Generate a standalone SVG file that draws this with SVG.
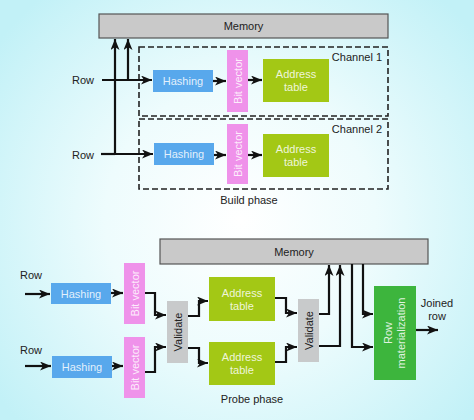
<svg xmlns="http://www.w3.org/2000/svg" width="474" height="420" viewBox="0 0 474 420">
<defs>
<radialGradient id="bg" cx="240" cy="220" r="300" gradientUnits="userSpaceOnUse">
<stop offset="0" stop-color="#ffffff"/>
<stop offset="0.45" stop-color="#eefcfd"/>
<stop offset="1" stop-color="#c2f1f7"/>
</radialGradient>
<marker id="ah" markerUnits="userSpaceOnUse" markerWidth="12" markerHeight="10" refX="11" refY="4.5" orient="auto">
<path d="M0,0 L11,4.5 L0,9 L3,4.5 z" fill="#111"/>
</marker>
<style>
.lbl{font-family:"Liberation Sans",Arial,sans-serif;font-size:11px;fill:#222}
.wt{font-family:"Liberation Sans",Arial,sans-serif;font-size:11px;fill:#ffffff;fill-opacity:0.85}
.mem{fill:#c9c9c9;stroke:#555;stroke-width:1.2}
.hash{fill:#58a8ec}
.bv{fill:#ef92ea}
.at{fill:#a3c815}
.val{fill:#c8cacb}
.rm{fill:#3db53d}
.dash{fill:none;stroke:#222;stroke-width:1.6;stroke-dasharray:6 3}
.c{fill:none;stroke:#111;stroke-width:2.2;marker-end:url(#ah)}
.cn{fill:none;stroke:#111;stroke-width:2.2}
</style>
</defs>
<rect x="0" y="0" width="474" height="420" fill="url(#bg)"/>

<!-- Build phase -->
<g id="memory1"><rect class="mem" x="99" y="14" width="289" height="24"/><text class="lbl" x="243.5" y="30" text-anchor="middle">Memory</text></g>
<g id="channel1"><rect class="dash" x="139" y="47" width="249" height="69"/><text class="lbl" x="382" y="61" text-anchor="end">Channel 1</text></g>
<g id="channel2"><rect class="dash" x="139" y="119" width="249" height="70"/><text class="lbl" x="382" y="133" text-anchor="end">Channel 2</text></g>
<g id="row1"><text class="lbl" x="83" y="84" text-anchor="middle">Row</text></g>
<g id="row2"><text class="lbl" x="83" y="159" text-anchor="middle">Row</text></g>
<g id="hash1"><rect class="hash" x="153" y="70" width="60" height="22"/><text class="wt" x="183" y="85" text-anchor="middle">Hashing</text></g>
<g id="hash2"><rect class="hash" x="154" y="143" width="60" height="22"/><text class="wt" x="184" y="158" text-anchor="middle">Hashing</text></g>
<g id="bv1"><rect class="bv" x="227" y="50" width="21" height="62"/><text class="wt" transform="translate(241.5,81) rotate(-90)" text-anchor="middle">Bit vector</text></g>
<g id="bv2"><rect class="bv" x="227" y="124" width="21" height="60"/><text class="wt" transform="translate(241.5,154) rotate(-90)" text-anchor="middle">Bit vector</text></g>
<g id="at1"><rect class="at" x="263" y="59" width="66" height="43"/><text class="wt" x="296" y="78" text-anchor="middle">Address</text><text class="wt" x="296" y="91" text-anchor="middle">table</text></g>
<g id="at2"><rect class="at" x="263" y="134" width="66" height="43"/><text class="wt" x="296" y="153" text-anchor="middle">Address</text><text class="wt" x="296" y="166" text-anchor="middle">table</text></g>
<g id="buildlabel"><text class="lbl" x="249" y="204" text-anchor="middle">Build phase</text></g>

<!-- Probe phase -->
<g id="memory2"><rect class="mem" x="160" y="239" width="268" height="25"/><text class="lbl" x="294" y="256" text-anchor="middle">Memory</text></g>
<g id="prow1"><text class="lbl" x="31" y="279" text-anchor="middle">Row</text></g>
<g id="prow2"><text class="lbl" x="31" y="354" text-anchor="middle">Row</text></g>
<g id="phash1"><rect class="hash" x="51" y="283" width="60" height="21"/><text class="wt" x="81" y="298" text-anchor="middle">Hashing</text></g>
<g id="phash2"><rect class="hash" x="52" y="356" width="60" height="22"/><text class="wt" x="82" y="371" text-anchor="middle">Hashing</text></g>
<g id="pbv1"><rect class="bv" x="124" y="263" width="21" height="61"/><text class="wt" transform="translate(138.5,293.5) rotate(-90)" text-anchor="middle">Bit vector</text></g>
<g id="pbv2"><rect class="bv" x="124" y="337" width="21" height="61"/><text class="wt" transform="translate(138.5,367.5) rotate(-90)" text-anchor="middle">Bit vector</text></g>
<g id="val1"><rect class="val" x="167" y="301" width="21" height="62"/><text class="lbl" transform="translate(181.5,332) rotate(-90)" text-anchor="middle">Validate</text></g>
<g id="pat1"><rect class="at" x="209" y="277" width="66" height="44"/><text class="wt" x="242" y="297" text-anchor="middle">Address</text><text class="wt" x="242" y="310" text-anchor="middle">table</text></g>
<g id="pat2"><rect class="at" x="209" y="342" width="66" height="43"/><text class="wt" x="242" y="361" text-anchor="middle">Address</text><text class="wt" x="242" y="374" text-anchor="middle">table</text></g>
<g id="val2"><rect class="val" x="298" y="299" width="21" height="63"/><text class="lbl" transform="translate(312.5,330.5) rotate(-90)" text-anchor="middle">Validate</text></g>
<g id="rowmat"><rect class="rm" x="374" y="286" width="42" height="94"/><text class="wt" transform="translate(392,333) rotate(-90)" text-anchor="middle">Row</text><text class="wt" transform="translate(405,333) rotate(-90)" text-anchor="middle">materialization</text></g>
<g id="joined"><text class="lbl" x="437" y="307" text-anchor="middle">Joined</text><text class="lbl" x="437" y="320" text-anchor="middle">row</text></g>
<g id="probelabel"><text class="lbl" x="252" y="403" text-anchor="middle">Probe phase</text></g>

<g id="connectors">
<!-- build -->
<path class="c" d="M102,80 H152"/>
<path class="c" d="M128,80 V39"/>
<path class="cn" d="M101,154 H115"/>
<path class="c" d="M115,154 V39"/>
<path class="c" d="M115,154 H153"/>
<path class="c" d="M213,81 H226"/>
<path class="c" d="M248,80 H262"/>
<path class="c" d="M214,155 H226"/>
<path class="c" d="M248,155 H262"/>
<!-- probe -->
<path class="c" d="M25,294 H50"/>
<path class="c" d="M25,366 H51"/>
<path class="c" d="M111,293 H123"/>
<path class="c" d="M112,366 H123"/>
<path class="c" d="M145,293 H155 V315 H166"/>
<path class="c" d="M145,372 H155 V347 H166"/>
<path class="c" d="M188,316 H199 V301 H208"/>
<path class="c" d="M188,348 H199 V363 H208"/>
<path class="c" d="M275,298 H286 V313 H297"/>
<path class="c" d="M275,362 H286 V347 H297"/>
<path class="c" d="M319,314 H329 V265"/>
<path class="c" d="M319,346 H340 V265"/>
<path class="c" d="M352,264 V347 H373"/>
<path class="c" d="M363,264 V314 H373"/>
<path class="c" d="M416,330 H438"/>
</g>
</svg>
